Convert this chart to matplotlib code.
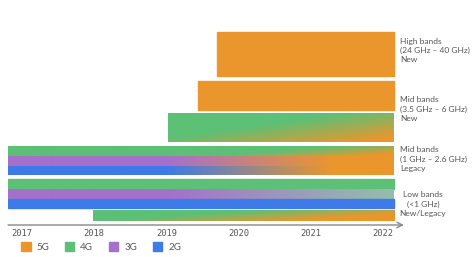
import matplotlib.pyplot as plt
import matplotlib.patches as mpatches
import numpy as np

plt.rcParams['font.family'] = ['Lato', 'DejaVu Sans']

# data
years = [2017, 2018, 2019, 2020, 2021, 2022]
end_year = 2022.15
bands = ["High bands\n(24 GHz – 40 GHz)\nNew",
         "Mid bands\n(3.5 GHz – 6 GHz)\nNew",
         "Mid bands\n(1 GHz – 2.6 GHz)\nLegacy",
         "Low bands\n(<1 GHz)\nNew/Legacy"]
techs = ["5G", "4G", "3G", "2G"]
# start year of each bar
high_5g_start = 2019.70
mid_new_5g_start = 2019.44
mid_new_4g_start = 2019.02
legacy_start = 2016.80
low_new_start = 2017.98

colors = {"5G": np.array([235, 150, 45]) / 255,
          "4G": np.array([92, 192, 118]) / 255,
          "3G": np.array([165, 112, 203]) / 255,
          "2G": np.array([62, 122, 232]) / 255}
faded_3g = np.array([148, 190, 172]) / 255


def grid(x0, x1, n=300, m=40):
    xs = np.linspace(x0, x1, n)
    vs = np.linspace(0, 1, m)
    return np.meshgrid(xs, vs)


def diag(x0, x1, pa, pb, soft):
    # green top-left -> orange bottom-right, 50% line from pa to pb
    X, V = grid(x0, x1)
    vb = pa[1] + (pb[1] - pa[1]) * (X - pa[0]) / (pb[0] - pa[0])
    return np.clip((V - vb) / soft + 0.5, 0, 1)


def mix(c1, c2, w):
    return c1[None, None, :] * (1 - w[..., None]) + c2[None, None, :] * w[..., None]


def draw(ax, img, x0, x1, ytop, ybot):
    ax.imshow(img, extent=(x0, x1, ybot, ytop), aspect='auto',
              interpolation='bilinear', zorder=2)


fig = plt.figure(figsize=(4.73, 2.57), dpi=100)
W, H = 473, 257
ax = fig.add_axes([8 / W, (H - 225) / H, (400 - 8) / W, (225 - 28) / H])
px = 72.2
ax.set_xlim(2017 - 14 / px, 2017 + 378 / px)
ax.set_ylim(225, 28)

# high bands
ax.add_patch(mpatches.Rectangle((high_5g_start, 32), end_year - high_5g_start, 44,
                                color=colors["5G"], zorder=2))
# mid bands new
ax.add_patch(mpatches.Rectangle((mid_new_5g_start, 81), end_year - mid_new_5g_start, 29,
                                color=colors["5G"], zorder=2))
w = diag(mid_new_4g_start, end_year, (2019.9, 1.1), (2022.15, 0.3), 1.1)
draw(ax, mix(colors["4G"], colors["5G"], w), mid_new_4g_start, end_year, 113, 142)

# mid bands legacy
w = diag(legacy_start, end_year, (2020.4, 1.1), (2022.15, 0.1), 1.2)
draw(ax, mix(colors["4G"], colors["5G"], w), legacy_start, end_year, 146.7, 157)
X, V = grid(legacy_start, end_year)
w = np.clip((X - 2019.0) / 2.3, 0, 1)
draw(ax, mix(colors["3G"], colors["5G"], w), legacy_start, end_year, 157, 166.5)
draw(ax, mix(colors["2G"], colors["5G"], w), legacy_start, end_year, 166.5, 175)

# low bands
ax.add_patch(mpatches.Rectangle((legacy_start, 179), end_year - legacy_start, 10.3,
                                color=colors["4G"], zorder=2))
w = np.clip((X - 2019.0) / (end_year - 2019.0), 0, 1)
draw(ax, mix(colors["3G"], faded_3g, w), legacy_start, end_year, 189.3, 199.3)
ax.add_patch(mpatches.Rectangle((legacy_start, 199.3), end_year - legacy_start, 9.2,
                                color=colors["2G"], zorder=2))
w = diag(low_new_start, end_year, (2019.2, 1.1), (2021.4, 0.1), 1.2)
draw(ax, mix(colors["4G"], colors["5G"], w), low_new_start, end_year, 211, 221.5)

# axis
for s in ax.spines.values():
    s.set_visible(False)
ax.set_yticks([])
ax.set_xticks(years)
ax.tick_params(axis='x', length=0, pad=3, labelsize=6.3, labelcolor='#555555')
for lbl in ax.get_xticklabels():
    lbl.set_family('DejaVu Sans Mono')
ax.annotate('', xy=(1.01, 0), xytext=(0, 0), xycoords='axes fraction',
            arrowprops=dict(arrowstyle='->', color='#888888', lw=1,
                            shrinkA=0, shrinkB=0))

# band labels
label_y = [50.5, 109, 159, 204]
for i, (lab, y) in enumerate(zip(bands, label_y)):
    if i == 3:
        ax.text(2017 + (423 - 22) / px, y, lab, ha='center', va='center',
                fontsize=6.0, color='#555555', linespacing=1.35, clip_on=False)
    else:
        ax.text(2017 + (400 - 22) / px, y, lab, ha='left', va='center',
                fontsize=6.0, color='#555555', linespacing=1.35, clip_on=False)

handles = [mpatches.Patch(color=colors[t], label=t) for t in techs]
fig.legend(handles=handles, loc='center left', bbox_to_anchor=(16 / W, 1 - 247 / H),
           ncol=4, frameon=False, fontsize=7, labelcolor='#555555',
           handlelength=1.0, handleheight=1.0, handletextpad=0.6,
           columnspacing=1.6, borderpad=0)

fig.savefig('out.png', dpi=100)
